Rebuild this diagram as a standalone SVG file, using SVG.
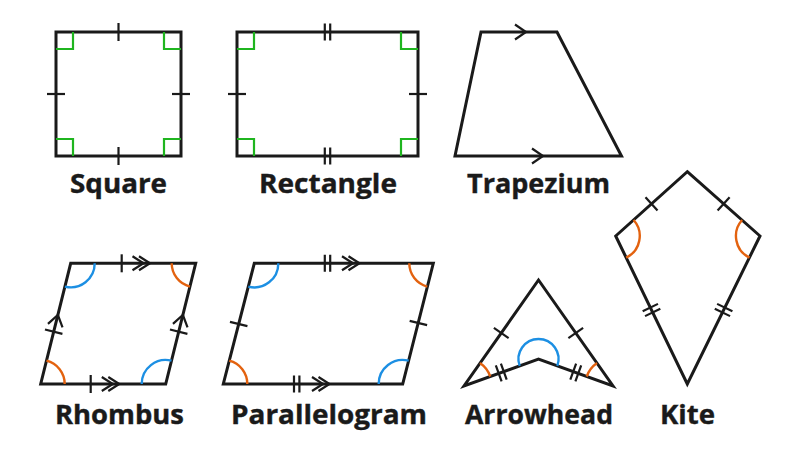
<svg xmlns="http://www.w3.org/2000/svg" xmlns:xlink="http://www.w3.org/1999/xlink" width="800" height="450" viewBox="0 0 800 450">
<style>
.shape{fill:none;stroke:#1a1a1a;stroke-width:3;stroke-linejoin:miter;stroke-miterlimit:10}
.mk{fill:none;stroke:#1a1a1a;stroke-width:2.2}
.ra{fill:none;stroke:#1fb51f;stroke-width:2.2}
.blue{fill:none;stroke:#1c8fe3;stroke-width:2.4}
.orange{fill:none;stroke:#e3620f;stroke-width:2.4}
.lbl{font-family:"Open Sans","Noto Sans","Liberation Sans",sans-serif;font-weight:bold;font-size:27px;fill:#1a1a1a;stroke:#1a1a1a;stroke-width:0.4;text-anchor:middle}
</style>
<defs>
<path id="tick" class="mk" d="M0,-9 V9"/>
<path id="dtick" class="mk" d="M-2.7,-8.5 V8.5 M2.7,-8.5 V8.5"/>
<path id="chev" class="mk" d="M-11,-7.5 L0,0 L-11,7.5"/>
<path id="dchev" class="mk" d="M-11,-7 L0,0 L-11,7 M-17.5,-7 L-6.5,0 L-17.5,7"/>
</defs>
<rect width="800" height="450" fill="#ffffff"/>

<g id="square">
<rect class="shape" x="56" y="32" width="125" height="124"/>
<path class="ra" d="M56,49 H73 V32 M181,49 H164 V32 M56,139 H73 V156 M181,139 H164 V156"/>
<use xlink:href="#tick" href="#tick" transform="translate(118.5,32)"/>
<use xlink:href="#tick" href="#tick" transform="translate(118.5,156)"/>
<use xlink:href="#tick" href="#tick" transform="translate(56,94) rotate(90)"/>
<use xlink:href="#tick" href="#tick" transform="translate(181,94) rotate(90)"/>
<text class="lbl" x="118.5" y="193" textLength="97" lengthAdjust="spacingAndGlyphs">Square</text>
</g>

<g id="rectangle">
<rect class="shape" x="237" y="32" width="181" height="124"/>
<path class="ra" d="M237,49 H254 V32 M418,49 H401 V32 M237,139 H254 V156 M418,139 H401 V156"/>
<use xlink:href="#dtick" href="#dtick" transform="translate(327.5,32)"/>
<use xlink:href="#dtick" href="#dtick" transform="translate(327.5,156)"/>
<use xlink:href="#tick" href="#tick" transform="translate(237,94) rotate(90)"/>
<use xlink:href="#tick" href="#tick" transform="translate(418,94) rotate(90)"/>
<text class="lbl" x="328" y="193" textLength="138" lengthAdjust="spacingAndGlyphs">Rectangle</text>
</g>

<g id="trapezium">
<path class="shape" d="M481,32 H557 L621.5,156 H455 Z"/>
<use xlink:href="#chev" href="#chev" transform="translate(526,32)"/>
<use xlink:href="#chev" href="#chev" transform="translate(543,156)"/>
<text class="lbl" x="538.5" y="193" textLength="143" lengthAdjust="spacingAndGlyphs">Trapezium</text>
</g>

<g id="rhombus">
<path class="shape" d="M70.7,263.3 H195.7 L165.7,384 H40.7 Z"/>
<path class="blue" d="M94.7,263.3 A24,24 0 0 1 64.9,286.6"/>
<path class="orange" d="M171.7,263.3 A24,24 0 0 0 189.9,286.6"/>
<path class="orange" d="M64.7,384 A24,24 0 0 0 46.5,360.7"/>
<path class="blue" d="M141.7,384 A24,24 0 0 1 171.5,360.7"/>
<use xlink:href="#tick" href="#tick" transform="translate(121.7,263.3)"/>
<use xlink:href="#dchev" href="#dchev" transform="translate(150,263.3)"/>
<use xlink:href="#tick" href="#tick" transform="translate(90.7,384)"/>
<use xlink:href="#dchev" href="#dchev" transform="translate(119.3,384)"/>
<use xlink:href="#tick" href="#tick" transform="translate(53.7,331.7) rotate(-76)"/>
<use xlink:href="#chev" href="#chev" transform="translate(57.9,315) rotate(-76)"/>
<use xlink:href="#tick" href="#tick" transform="translate(178.7,331.7) rotate(-76)"/>
<use xlink:href="#chev" href="#chev" transform="translate(182.9,315) rotate(-76)"/>
<text class="lbl" x="119.5" y="424" textLength="129" lengthAdjust="spacingAndGlyphs">Rhombus</text>
</g>

<g id="parallelogram">
<path class="shape" d="M254.3,263.3 H433.3 L402.7,384 H223.3 Z"/>
<path class="blue" d="M278.3,263.3 A24,24 0 0 1 248.3,286.6"/>
<path class="orange" d="M409.3,263.3 A24,24 0 0 0 427.3,286.6"/>
<path class="orange" d="M247.3,384 A24,24 0 0 0 229.3,360.7"/>
<path class="blue" d="M378.7,384 A24,24 0 0 1 408.7,360.7"/>
<use xlink:href="#dtick" href="#dtick" transform="translate(327.5,263.3)"/>
<use xlink:href="#dchev" href="#dchev" transform="translate(359.5,263.3)"/>
<use xlink:href="#dtick" href="#dtick" transform="translate(296.7,384)"/>
<use xlink:href="#dchev" href="#dchev" transform="translate(329.5,384)"/>
<use xlink:href="#tick" href="#tick" transform="translate(238.7,324) rotate(-76)"/>
<use xlink:href="#tick" href="#tick" transform="translate(418.4,323) rotate(-76)"/>
<text class="lbl" x="329" y="424" textLength="196" lengthAdjust="spacingAndGlyphs">Parallelogram</text>
</g>

<g id="arrowhead">
<path class="shape" d="M538.5,280 L613,386 L538.5,359 L464,386 Z"/>
<path class="blue" d="M519.7,365.8 A20,20 0 1 1 557.3,365.8"/>
<path class="orange" d="M480,363 A28,28 0 0 1 490.3,376.5"/>
<path class="orange" d="M597,363 A28,28 0 0 0 586.7,376.5"/>
<use xlink:href="#tick" href="#tick" transform="translate(501.25,333) rotate(-54.9)"/>
<use xlink:href="#tick" href="#tick" transform="translate(575.75,333) rotate(54.9)"/>
<use xlink:href="#dtick" href="#dtick" transform="translate(501.25,372.5) rotate(-19.9)"/>
<use xlink:href="#dtick" href="#dtick" transform="translate(575.75,372.5) rotate(19.9)"/>
<text class="lbl" x="539" y="424" textLength="148" lengthAdjust="spacingAndGlyphs">Arrowhead</text>
</g>

<g id="kite">
<path class="shape" d="M687.3,171.7 L760,236 L687.3,384 L615.7,236 Z"/>
<path class="orange" d="M633.6,220 A24,24 0 0 1 626.2,257.6"/>
<path class="orange" d="M742.1,220 A24,24 0 0 0 749.5,257.6"/>
<use xlink:href="#tick" href="#tick" transform="translate(651.5,203.9) rotate(-41.9)"/>
<use xlink:href="#tick" href="#tick" transform="translate(723.6,203.9) rotate(41.9)"/>
<use xlink:href="#dtick" href="#dtick" transform="translate(651.5,310) rotate(64.2)"/>
<use xlink:href="#dtick" href="#dtick" transform="translate(723.6,310) rotate(-64.2)"/>
<text class="lbl" x="687.5" y="424" textLength="55" lengthAdjust="spacingAndGlyphs">Kite</text>
</g>
</svg>
